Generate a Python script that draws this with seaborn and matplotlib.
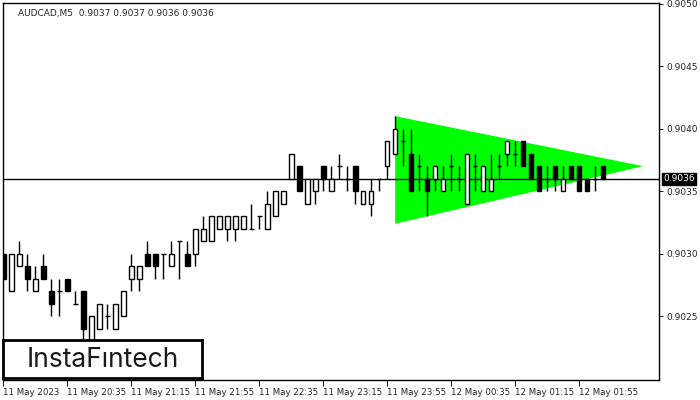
import pandas as pd
import matplotlib
matplotlib.use("Agg")
import matplotlib.pyplot as plt
import matplotlib.transforms as mtransforms
import seaborn as sns

# Dados das velas AUDCAD M5
inicio = "2023-05-11 19:55"
abertura = [0.9030, 0.9027, 0.9029, 0.9029, 0.9027, 0.9029, 0.9027, 0.9027, 0.9028, 0.9026,
            0.9027, 0.9023, 0.9024, 0.9025, 0.9024, 0.9025, 0.9028, 0.9028, 0.9030, 0.9030,
            0.9030, 0.9029, 0.9031, 0.9030, 0.9030, 0.9031, 0.9031, 0.9032, 0.9032, 0.9032,
            0.9032, 0.9032, 0.9033, 0.9032, 0.9033, 0.9034, 0.9036, 0.9037, 0.9034, 0.9035,
            0.9037, 0.9035, 0.9037, 0.9036, 0.9037, 0.9034, 0.9034, 0.9036, 0.9037, 0.9038,
            0.9039, 0.9038, 0.9037, 0.9036, 0.9036, 0.9035, 0.9037, 0.9036, 0.9034, 0.9037,
            0.9035, 0.9035, 0.9037, 0.9038, 0.9038, 0.9039, 0.9038, 0.9037, 0.9036, 0.9037,
            0.9035, 0.9037, 0.9037, 0.9036, 0.9036, 0.9037]
maxima = [0.9030, 0.9030, 0.9031, 0.9030, 0.9029, 0.9030, 0.9028, 0.9028, 0.9028, 0.9027,
          0.9027, 0.9025, 0.9026, 0.9026, 0.9026, 0.9027, 0.9030, 0.9029, 0.9031, 0.9030,
          0.9030, 0.9031, 0.9031, 0.9031, 0.9032, 0.9033, 0.9033, 0.9033, 0.9033, 0.9033,
          0.9033, 0.9034, 0.9033, 0.9035, 0.9035, 0.9035, 0.9038, 0.9037, 0.9036, 0.9036,
          0.9037, 0.9037, 0.9038, 0.9037, 0.9037, 0.9035, 0.9036, 0.9036, 0.9039, 0.9041,
          0.9040, 0.9040, 0.9038, 0.9037, 0.9037, 0.9037, 0.9038, 0.9037, 0.9038, 0.9038,
          0.9037, 0.9038, 0.9038, 0.9039, 0.9039, 0.9039, 0.9038, 0.9037, 0.9037, 0.9037,
          0.9037, 0.9037, 0.9037, 0.9036, 0.9037, 0.9037]
minimas = [0.9028, 0.9027, 0.9029, 0.9027, 0.9027, 0.9028, 0.9025, 0.9025, 0.9027, 0.9026,
           0.9023, 0.9023, 0.9024, 0.9024, 0.9024, 0.9025, 0.9027, 0.9027, 0.9029, 0.9028,
           0.9028, 0.9029, 0.9028, 0.9029, 0.9029, 0.9031, 0.9031, 0.9032, 0.9031, 0.9031,
           0.9032, 0.9032, 0.9032, 0.9032, 0.9033, 0.9034, 0.9036, 0.9035, 0.9034, 0.9034,
           0.9035, 0.9035, 0.9036, 0.9035, 0.9034, 0.9034, 0.9033, 0.9035, 0.9036, 0.9038,
           0.9037, 0.9035, 0.9035, 0.9033, 0.9035, 0.9035, 0.9035, 0.9035, 0.9034, 0.9035,
           0.9035, 0.9035, 0.9036, 0.9037, 0.9037, 0.9037, 0.9036, 0.9035, 0.9035, 0.9035,
           0.9035, 0.9036, 0.9035, 0.9035, 0.9035, 0.9036]
fechamento = [0.9028, 0.9030, 0.9030, 0.9028, 0.9028, 0.9028, 0.9026, 0.9027, 0.9027, 0.9026,
              0.9024, 0.9025, 0.9026, 0.9025, 0.9026, 0.9027, 0.9029, 0.9029, 0.9029, 0.9029,
              0.9030, 0.9030, 0.9031, 0.9029, 0.9032, 0.9032, 0.9033, 0.9033, 0.9033, 0.9033,
              0.9033, 0.9032, 0.9033, 0.9034, 0.9035, 0.9035, 0.9038, 0.9035, 0.9036, 0.9036,
              0.9036, 0.9036, 0.9037, 0.9036, 0.9035, 0.9035, 0.9035, 0.9036, 0.9039, 0.9040,
              0.9039, 0.9035, 0.9037, 0.9035, 0.9037, 0.9036, 0.9037, 0.9036, 0.9038, 0.9037,
              0.9037, 0.9036, 0.9037, 0.9039, 0.9038, 0.9037, 0.9036, 0.9035, 0.9036, 0.9036,
              0.9036, 0.9036, 0.9035, 0.9035, 0.9036, 0.9036]

# Triângulo simétrico (barra, preço)
triangulo_barras = [49, 49, 80]
triangulo_precos = [0.9041, 0.90324, 0.9037]

preco_atual = 0.9036
precos_eixo = [0.9025, 0.9030, 0.9035, 0.9040, 0.9045, 0.9050]
rotulos_x = ["11 May 2023", "11 May 20:35", "11 May 21:15", "11 May 21:55", "11 May 22:35",
             "11 May 23:15", "11 May 23:55", "12 May 00:35", "12 May 01:15", "12 May 01:55"]

df = pd.DataFrame({"Abertura": abertura, "Maxima": maxima, "Minima": minimas, "Fechamento": fechamento})
df["Tempo"] = pd.date_range(inicio, periods=len(df), freq="5min")
df["Barra"] = range(len(df))
df["Alta"] = df["Fechamento"] >= df["Abertura"]

sns.set_style("white")
plt.rcParams["font.family"] = ["DejaVu Sans"]

fig = plt.figure(figsize=(7, 4), dpi=100)
ax = fig.add_axes([3 / 700, 20 / 400, 656 / 700, 377 / 400])

# Triângulo verde ao fundo
ax.fill(triangulo_barras, triangulo_precos, color="#00ff00", lw=0, zorder=1)

# Linha do preço atual
ax.axhline(preco_atual, color="black", lw=1, zorder=2)

# Pavios
ax.vlines(df["Barra"], df["Minima"], df["Maxima"], color="black", lw=1, zorder=3)

# Corpos das velas
largura = 0.58
corpo_base = df[["Abertura", "Fechamento"]].min(axis=1)
corpo_altura = (df["Fechamento"] - df["Abertura"]).abs()
com_corpo = corpo_altura > 1e-6
cores = ["white" if a else "black" for a in df["Alta"]]
ax.bar(df["Barra"][com_corpo], corpo_altura[com_corpo], bottom=corpo_base[com_corpo], width=largura,
       color=[c for c, m in zip(cores, com_corpo) if m], edgecolor="black", lw=1, zorder=4)
doji = df[~com_corpo]
ax.hlines(doji["Fechamento"], doji["Barra"] - largura / 2, doji["Barra"] + largura / 2,
          color="black", lw=1, zorder=4)

ax.set_xlim(-0.05, 82)
ax.set_ylim(0.90199, 0.905005)

# Eixo Y à direita
ax.yaxis.tick_right()
ax.set_yticks(precos_eixo)
ax.set_yticklabels([f"{p:.4f}" for p in precos_eixo], fontsize=6.5)
ax.tick_params(axis="y", direction="out", length=3, width=0.8, pad=2, right=True, left=False)

# Eixo X
ax.set_xticks(df["Barra"][::8][:len(rotulos_x)])
ax.set_xticklabels(rotulos_x, fontsize=6.2, ha="left")
ax.tick_params(axis="x", direction="out", length=4, width=0.8, pad=2, bottom=True)

for lado in ax.spines.values():
    lado.set_color("black")
    lado.set_linewidth(1)

# Rótulo do preço atual
trans = mtransforms.blended_transform_factory(ax.transAxes, ax.transData)
ax.text(1.006, preco_atual, f"{preco_atual:.4f}", transform=trans, fontsize=6.5, color="white",
        va="center", ha="left", zorder=10,
        bbox=dict(boxstyle="square,pad=0.15", fc="black", ec="black"))

# Cabeçalho
ax.text(15 / 656, 0.983, "AUDCAD,M5  0.9037 0.9037 0.9036 0.9036", transform=ax.transAxes,
        fontsize=6.5, va="top", ha="left")

# Logotipo
logo = fig.add_axes([3 / 700, 22 / 400, 199 / 700, 38 / 400])
logo.set_xticks([])
logo.set_yticks([])
logo.set_facecolor("white")
for lado in logo.spines.values():
    lado.set_color("black")
    lado.set_linewidth(2)
logo.text(0.5, 0.47, "InstaFıntech", fontsize=19, family=["Inter", "DejaVu Sans"], weight="normal",
          ha="center", va="center", color="#1a1a1a", transform=logo.transAxes)

fig.savefig("out.png", dpi=100)
